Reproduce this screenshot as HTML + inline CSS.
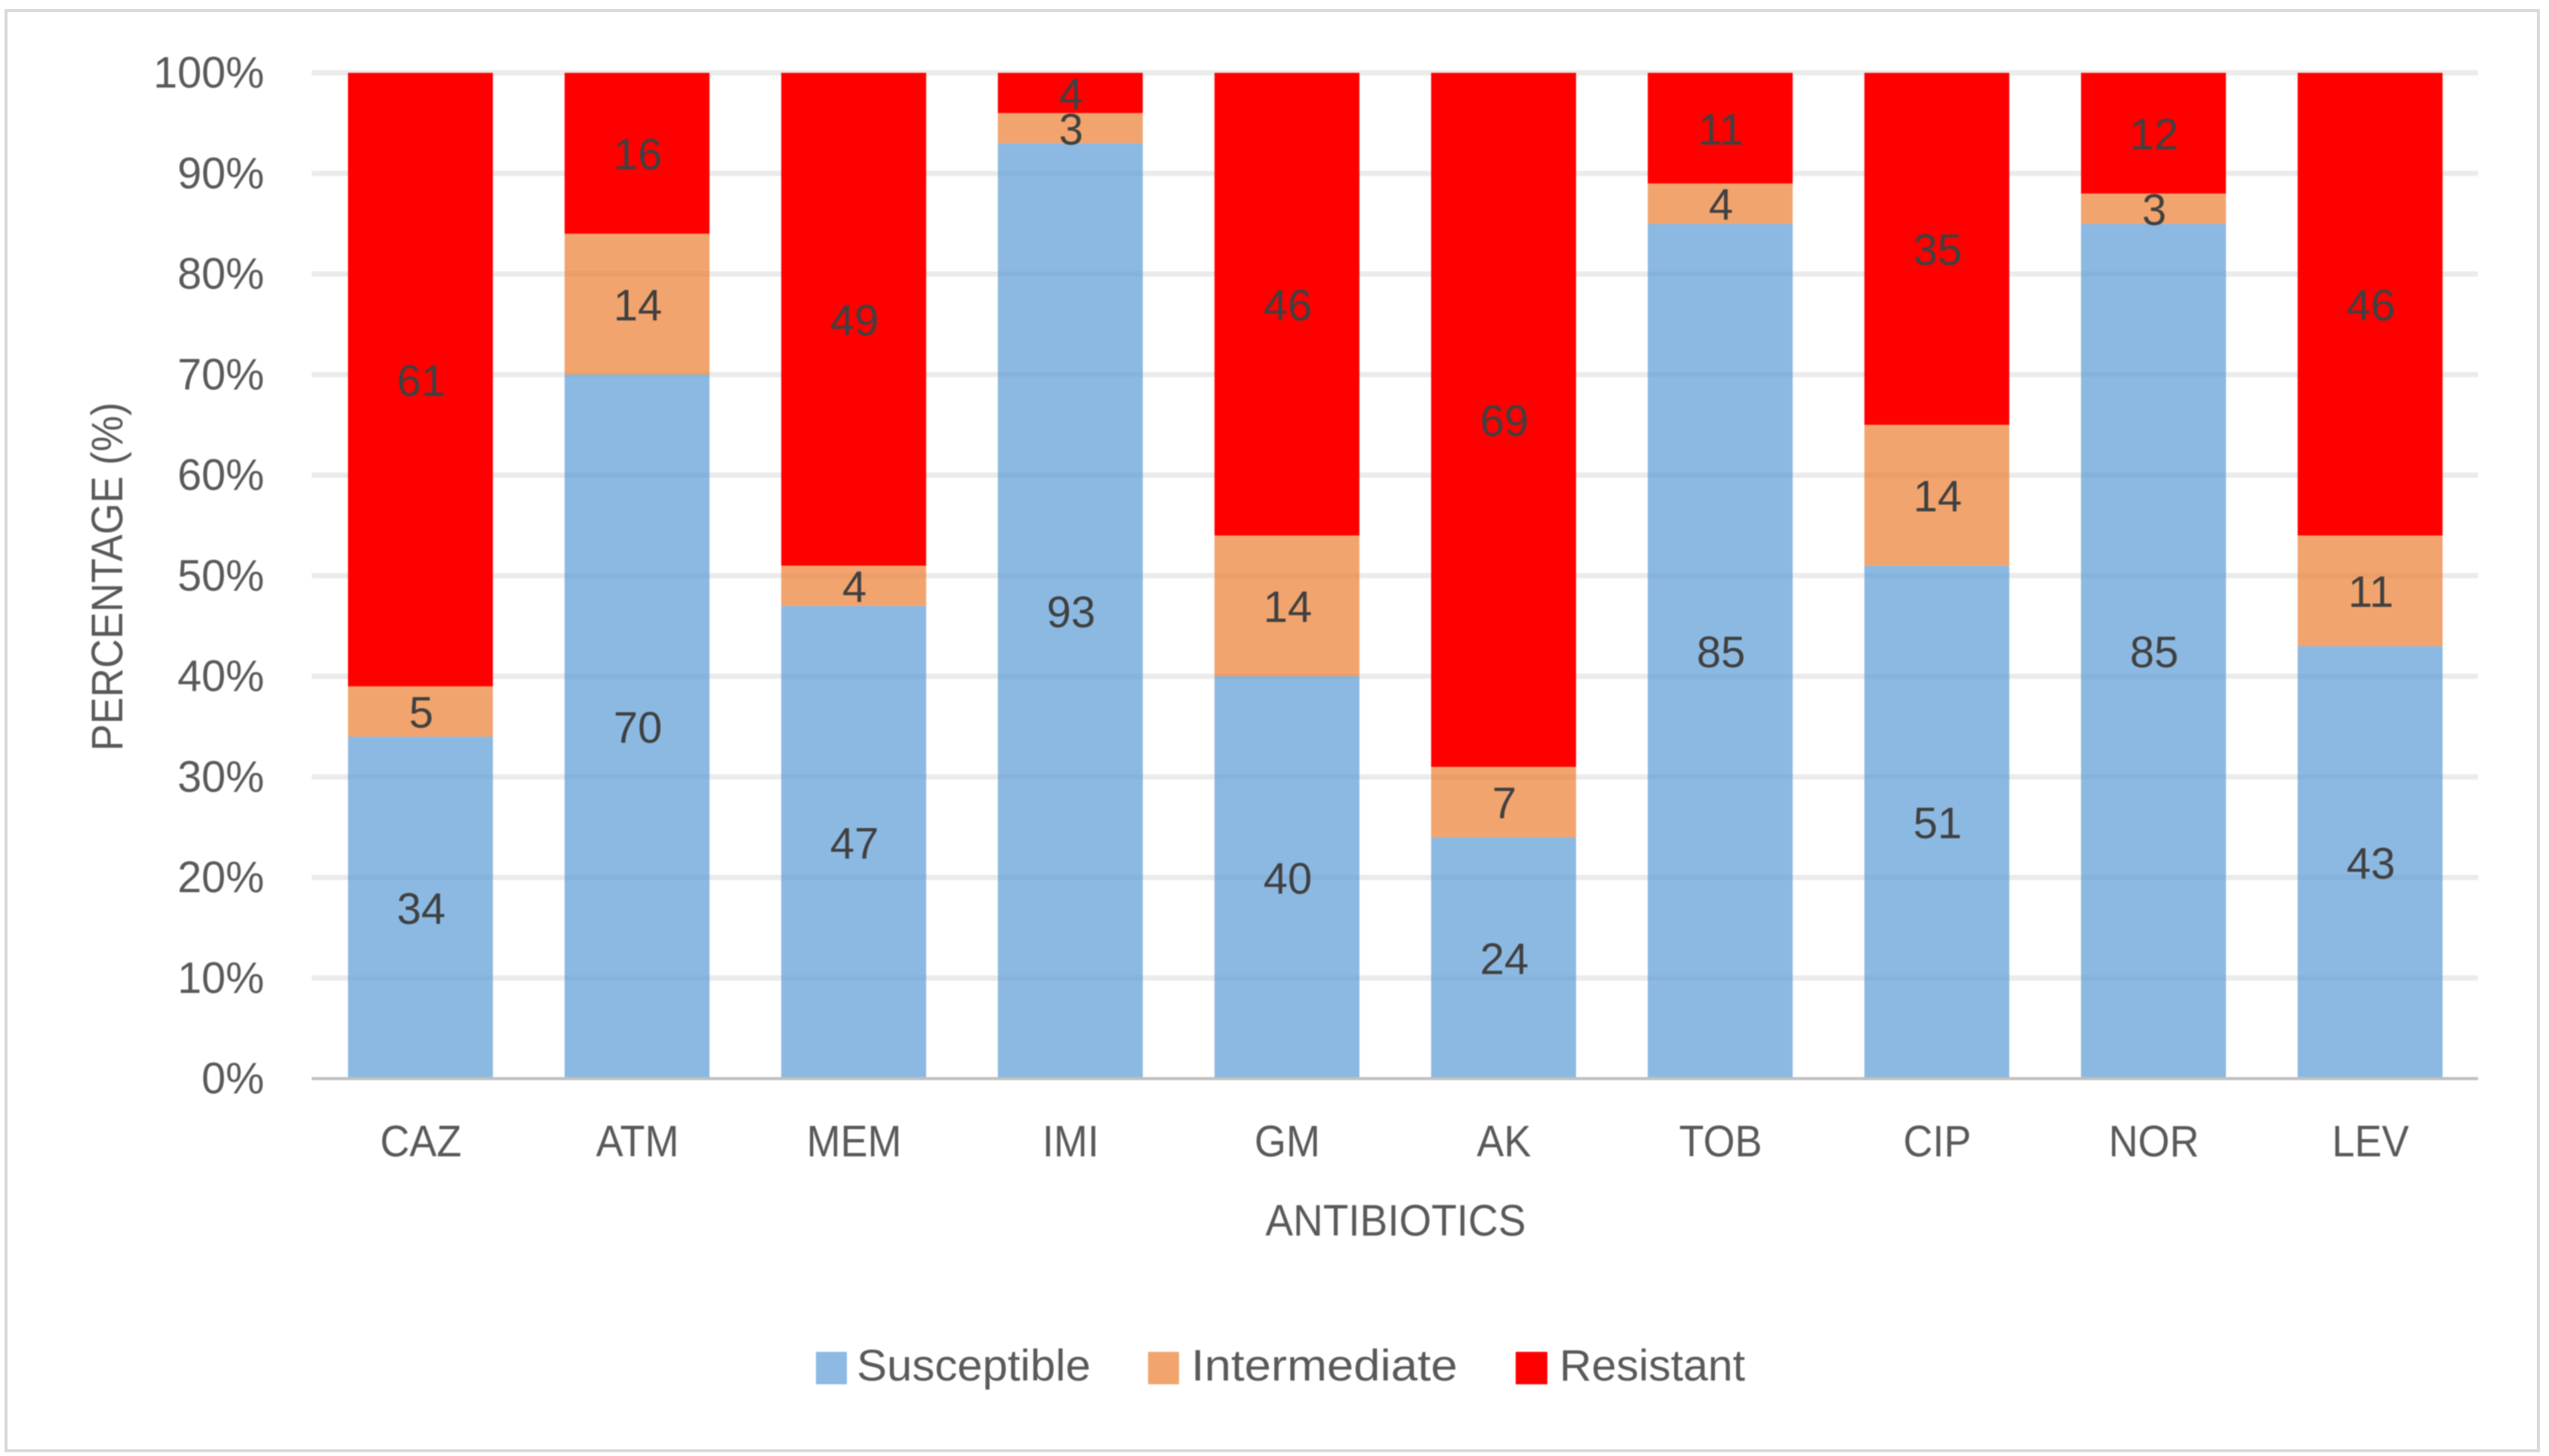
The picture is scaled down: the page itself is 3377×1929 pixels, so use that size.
<!DOCTYPE html>
<html lang="en">
<head>
<meta charset="utf-8">
<title>Antibiotic susceptibility chart</title>
<style>
  html, body { margin: 0; padding: 0; background: #fff; }
  body { width: 3377px; height: 1929px; overflow: hidden; }
  svg { display: block; }
  text { font-family: "Liberation Sans", sans-serif; font-size: 58px; }
</style>
</head>
<body>
<svg id="chart" xmlns="http://www.w3.org/2000/svg" width="3377" height="1929" viewBox="0 0 3377 1929">
  <rect x="0" y="0" width="3377" height="1929" fill="#ffffff"/>
  <rect x="8" y="14" width="3355" height="1908" fill="none" stroke="#d9d9d9" stroke-width="4"/>
  <g id="plot" style="filter:blur(0.9px)"></g>
  <g style="filter:blur(0.7px)">
    <g>
      <rect x="1081" y="1791" width="41" height="43" fill="#8db9e2"/>
      <text x="1135" y="1829" fill="#595959" textLength="310" lengthAdjust="spacingAndGlyphs">Susceptible</text>
    </g>
    <g>
      <rect x="1521" y="1791" width="41" height="43" fill="#f2a46f"/>
      <text x="1578" y="1829" fill="#595959" textLength="353" lengthAdjust="spacingAndGlyphs">Intermediate</text>
    </g>
    <g>
      <rect x="2008" y="1791" width="42" height="43" fill="#ff0000"/>
      <text x="2066" y="1829" fill="#595959" textLength="246" lengthAdjust="spacingAndGlyphs">Resistant</text>
    </g>
  </g>
  <text x="1849" y="1637" text-anchor="middle" fill="#595959" textLength="345" lengthAdjust="spacingAndGlyphs" style="filter:blur(0.7px)">ANTIBIOTICS</text>
  <text transform="translate(162,764) rotate(-90)" text-anchor="middle" fill="#595959" textLength="462" lengthAdjust="spacingAndGlyphs" style="filter:blur(0.7px)">PERCENTAGE (%)</text>
</svg>
<script>
var categories = ["CAZ", "ATM", "MEM", "IMI", "GM", "AK", "TOB", "CIP", "NOR", "LEV"];
var susceptible = [34, 70, 47, 93, 40, 24, 85, 51, 85, 43];
var intermediate = [5, 14, 4, 3, 14, 7, 4, 14, 3, 11];
var resistant = [61, 16, 49, 4, 46, 69, 11, 35, 12, 46];
var yTicks = [0, 10, 20, 30, 40, 50, 60, 70, 80, 90, 100];
var yTickLabels = ["0%", "10%", "20%", "30%", "40%", "50%", "60%", "70%", "80%", "90%", "100%"];

var NS = "http://www.w3.org/2000/svg";
var plot = document.getElementById("plot");
var plotLeft = 413, plotRight = 3283, plotTop = 96, plotBottom = 1428.5;
var band = (plotRight - plotLeft) / categories.length;
var barWidth = 192;

function yScale(v) { return plotBottom - (v / 100) * (plotBottom - plotTop); }
function xBand(i) { return plotLeft + band * i + band / 2; }

function rect(x, y, w, h, fill) {
  var el = document.createElementNS(NS, "rect");
  el.setAttribute("x", x);
  el.setAttribute("y", y);
  el.setAttribute("width", w);
  el.setAttribute("height", h);
  el.setAttribute("fill", fill);
  plot.appendChild(el);
  return el;
}
function text(str, x, y, anchor, fill, sx) {
  var el = document.createElementNS(NS, "text");
  el.setAttribute("transform", "translate(" + x + "," + y + ") scale(" + (sx || 1) + ",1)");
  el.setAttribute("text-anchor", anchor);
  el.setAttribute("fill", fill);
  el.textContent = str;
  plot.appendChild(el);
  return el;
}

yTicks.forEach(function (t, i) {
  if (t > 0) {
    var g = rect(plotLeft, yScale(t) - 3, plotRight - plotLeft, 7, "#ebebeb");
    
    
  }
  var l = text(yTickLabels[i], 350, yScale(t) + 20, "end", "#595959", 0.99);
  
  
});

var seriesNames = ["susceptible", "intermediate", "resistant"];
var seriesValues = [susceptible, intermediate, resistant];
var seriesFills = ["rgba(91,155,213,0.7)", "rgba(237,125,49,0.7)", "#ff0000"];

categories.forEach(function (cat, i) {
  var base = 0;
  seriesValues.forEach(function (vals, s) {
    var v = vals[i];
    var top = base + v;
    var bar = rect(xBand(i) - barWidth / 2 + 0.5, yScale(top) + 0.5, barWidth, yScale(base) - yScale(top), seriesFills[s]);
    
    
    base = top;
  });
});

var axis = rect(plotLeft, plotBottom - 1.5, plotRight - plotLeft, 4, "#bfbfbf");



categories.forEach(function (cat, i) {
  var base = 0;
  seriesValues.forEach(function (vals, s) {
    var v = vals[i];
    var lab = text(String(v), xBand(i) + 1.5, yScale(base + v / 2) + 22, "middle", "#404040", 1);
    
    
    base += v;
  });
  var c = text(cat, xBand(i) + 1, 1532, "middle", "#595959", 0.93);
  
  
});
</script>
</body>
</html>
